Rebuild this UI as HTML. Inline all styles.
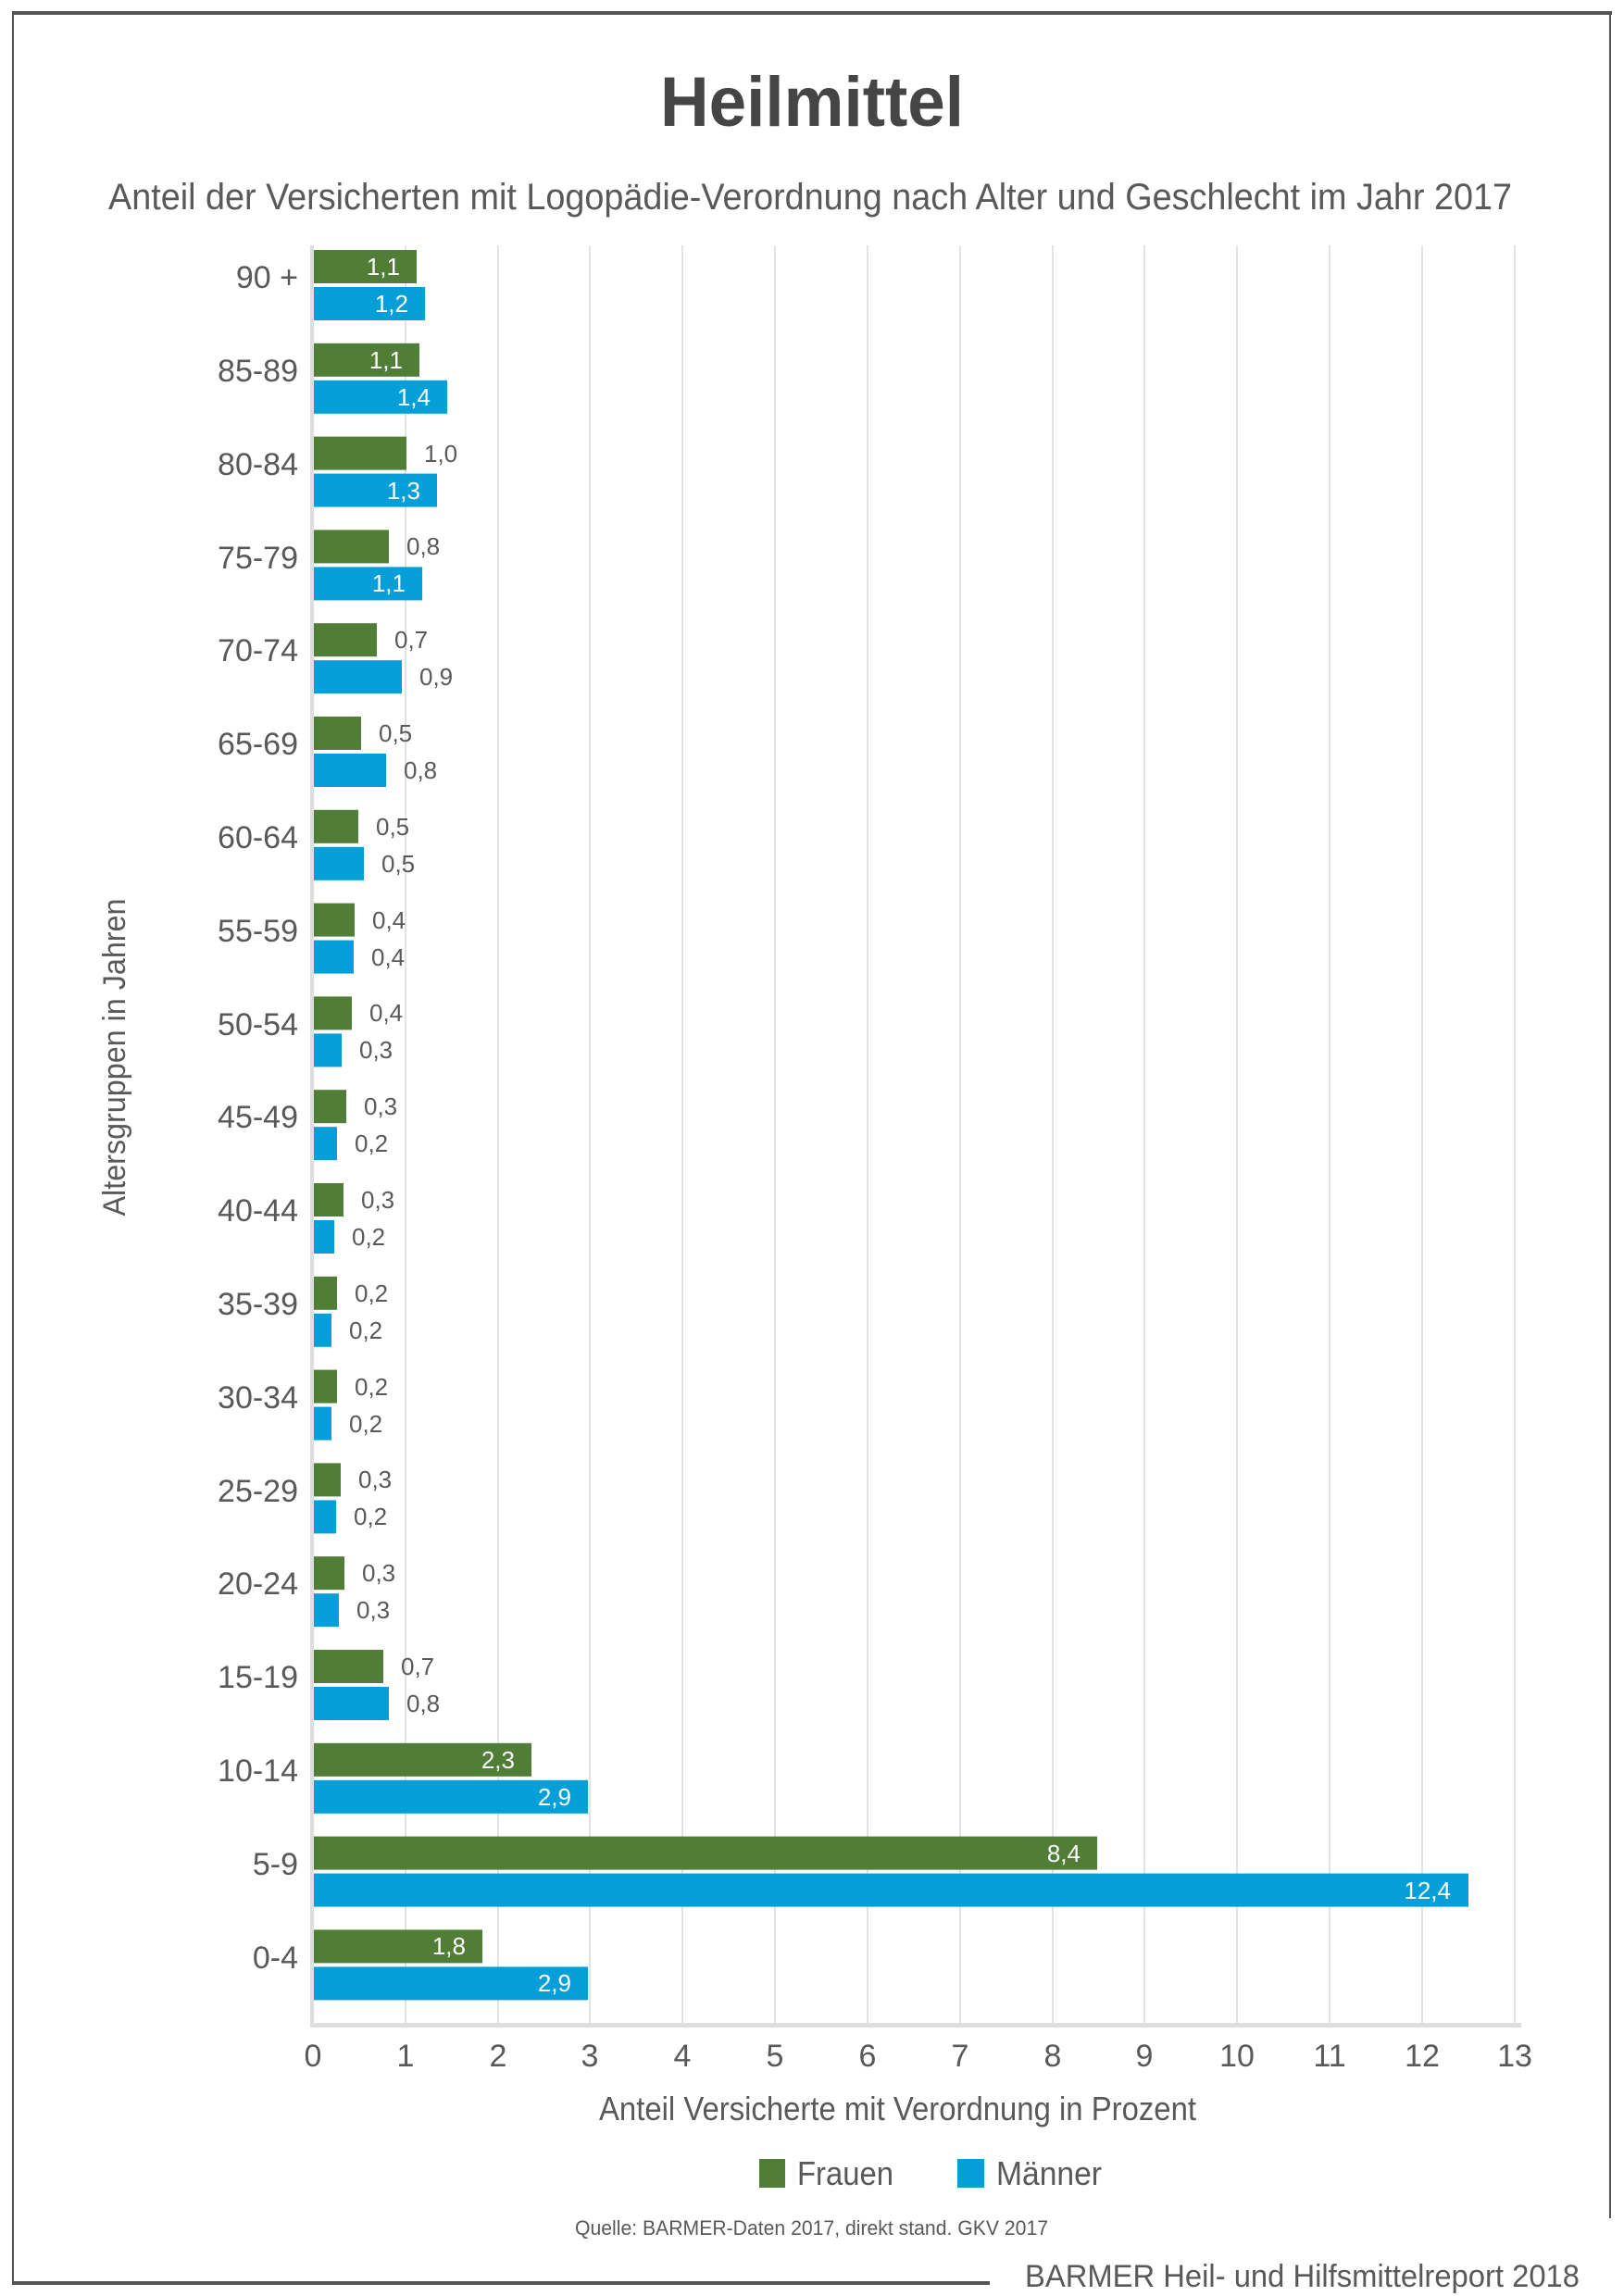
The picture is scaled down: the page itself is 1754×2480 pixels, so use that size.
<!DOCTYPE html>
<html><head><meta charset="utf-8"><style>
html,body{margin:0;padding:0;background:#fff}
svg{display:block}
text{font-family:"Liberation Sans",sans-serif;fill:#595959}
.c{font-size:34px;text-anchor:end}
.o{font-size:26px}
.i{font-size:26px;fill:#fff;text-anchor:end}
.t{font-size:34px;text-anchor:middle}
</style></head><body>
<svg width="1754" height="2480" viewBox="0 0 1754 2480" xmlns="http://www.w3.org/2000/svg">
<rect x="0" y="0" width="1754" height="2480" fill="#fff"/>
<rect x="13" y="12" width="1728" height="4" fill="#555"/>
<rect x="13" y="12" width="2" height="2456" fill="#555"/>
<rect x="1738" y="12" width="2" height="2384" fill="#555"/>
<rect x="13" y="2464" width="1056" height="4" fill="#555"/>
<text x="877" y="136" font-size="76" font-weight="bold" text-anchor="middle" textLength="328" lengthAdjust="spacingAndGlyphs" style="fill:#454545">Heilmittel</text>
<text x="117" y="226" font-size="40" textLength="1516" lengthAdjust="spacingAndGlyphs">Anteil der Versicherten mit Logopädie-Verordnung nach Alter und Geschlecht im Jahr 2017</text>
<g stroke="#e3e3e3" stroke-width="2">
<line x1="438" y1="265" x2="438" y2="2186"/><line x1="538" y1="265" x2="538" y2="2186"/>
<line x1="637" y1="265" x2="637" y2="2186"/><line x1="737" y1="265" x2="737" y2="2186"/>
<line x1="837" y1="265" x2="837" y2="2186"/><line x1="937" y1="265" x2="937" y2="2186"/>
<line x1="1037" y1="265" x2="1037" y2="2186"/><line x1="1137" y1="265" x2="1137" y2="2186"/>
<line x1="1236" y1="265" x2="1236" y2="2186"/><line x1="1336" y1="265" x2="1336" y2="2186"/>
<line x1="1436" y1="265" x2="1436" y2="2186"/><line x1="1536" y1="265" x2="1536" y2="2186"/>
<line x1="1636" y1="265" x2="1636" y2="2186"/>
</g>
<rect x="335" y="265" width="4" height="1924" fill="#dedede"/>
<rect x="335" y="2185" width="1308" height="5" fill="#dedede"/>
<g fill="#507e36">
<rect x="339" y="270" width="111" height="36"/>
<rect x="339" y="370.8" width="114" height="36"/>
<rect x="339" y="471.6" width="100" height="36"/>
<rect x="339" y="572.4" width="81" height="36"/>
<rect x="339" y="673.2" width="68" height="36"/>
<rect x="339" y="774" width="51" height="36"/>
<rect x="339" y="874.8" width="48" height="36"/>
<rect x="339" y="975.6" width="44" height="36"/>
<rect x="339" y="1076.4" width="41" height="36"/>
<rect x="339" y="1177.2" width="35" height="36"/>
<rect x="339" y="1278" width="32" height="36"/>
<rect x="339" y="1378.8" width="25" height="36"/>
<rect x="339" y="1479.6" width="25" height="36"/>
<rect x="339" y="1580.4" width="29" height="36"/>
<rect x="339" y="1681.2" width="33" height="36"/>
<rect x="339" y="1782" width="75" height="36"/>
<rect x="339" y="1882.8" width="235" height="36"/>
<rect x="339" y="1983.6" width="846" height="36"/>
<rect x="339" y="2084.4" width="182" height="36"/>
</g>
<g fill="#049fd9">
<rect x="339" y="310" width="120" height="36"/>
<rect x="339" y="410.8" width="144" height="36"/>
<rect x="339" y="511.6" width="133" height="36"/>
<rect x="339" y="612.4" width="117" height="36"/>
<rect x="339" y="713.2" width="95" height="36"/>
<rect x="339" y="814" width="78" height="36"/>
<rect x="339" y="914.8" width="54" height="36"/>
<rect x="339" y="1015.6" width="43" height="36"/>
<rect x="339" y="1116.4" width="30" height="36"/>
<rect x="339" y="1217.2" width="25" height="36"/>
<rect x="339" y="1318" width="22" height="36"/>
<rect x="339" y="1418.8" width="19" height="36"/>
<rect x="339" y="1519.6" width="19" height="36"/>
<rect x="339" y="1620.4" width="24" height="36"/>
<rect x="339" y="1721.2" width="27" height="36"/>
<rect x="339" y="1822" width="81" height="36"/>
<rect x="339" y="1922.8" width="296" height="36"/>
<rect x="339" y="2023.6" width="1247" height="36"/>
<rect x="339" y="2124.4" width="296" height="36"/>
</g>
<text class="i" x="432" y="297">1,1</text><text class="i" x="441" y="337">1,2</text>
<text class="i" x="435" y="398">1,1</text><text class="i" x="465" y="438">1,4</text>
<text class="o" x="458" y="499">1,0</text><text class="i" x="454" y="539">1,3</text>
<text class="o" x="439" y="599">0,8</text><text class="i" x="438" y="639">1,1</text>
<text class="o" x="426" y="700">0,7</text><text class="o" x="453" y="740">0,9</text>
<text class="o" x="409" y="801">0,5</text><text class="o" x="436" y="841">0,8</text>
<text class="o" x="406" y="902">0,5</text><text class="o" x="412" y="942">0,5</text>
<text class="o" x="402" y="1003">0,4</text><text class="o" x="401" y="1043">0,4</text>
<text class="o" x="399" y="1103">0,4</text><text class="o" x="388" y="1143">0,3</text>
<text class="o" x="393" y="1204">0,3</text><text class="o" x="383" y="1244">0,2</text>
<text class="o" x="390" y="1305">0,3</text><text class="o" x="380" y="1345">0,2</text>
<text class="o" x="383" y="1406">0,2</text><text class="o" x="377" y="1446">0,2</text>
<text class="o" x="383" y="1507">0,2</text><text class="o" x="377" y="1547">0,2</text>
<text class="o" x="387" y="1607">0,3</text><text class="o" x="382" y="1647">0,2</text>
<text class="o" x="391" y="1708">0,3</text><text class="o" x="385" y="1748">0,3</text>
<text class="o" x="433" y="1809">0,7</text><text class="o" x="439" y="1849">0,8</text>
<text class="i" x="556" y="1910">2,3</text><text class="i" x="617" y="1950">2,9</text>
<text class="i" x="1167" y="2011">8,4</text><text class="i" x="1567" y="2051">12,4</text>
<text class="i" x="503" y="2111">1,8</text><text class="i" x="617" y="2151">2,9</text>
<text class="c" x="322" y="311">90 +</text>
<text class="c" x="322" y="412">85-89</text>
<text class="c" x="322" y="513">80-84</text>
<text class="c" x="322" y="614">75-79</text>
<text class="c" x="322" y="714">70-74</text>
<text class="c" x="322" y="815">65-69</text>
<text class="c" x="322" y="916">60-64</text>
<text class="c" x="322" y="1017">55-59</text>
<text class="c" x="322" y="1118">50-54</text>
<text class="c" x="322" y="1218">45-49</text>
<text class="c" x="322" y="1319">40-44</text>
<text class="c" x="322" y="1420">35-39</text>
<text class="c" x="322" y="1521">30-34</text>
<text class="c" x="322" y="1622">25-29</text>
<text class="c" x="322" y="1722">20-24</text>
<text class="c" x="322" y="1823">15-19</text>
<text class="c" x="322" y="1924">10-14</text>
<text class="c" x="322" y="2025">5-9</text>
<text class="c" x="322" y="2126">0-4</text>
<text x="0" y="0" font-size="34" text-anchor="middle" textLength="343" lengthAdjust="spacingAndGlyphs" transform="translate(135,1142) rotate(-90)">Altersgruppen in Jahren</text>
<text class="t" x="338" y="2232">0</text><text class="t" x="438" y="2232">1</text>
<text class="t" x="538" y="2232">2</text><text class="t" x="637" y="2232">3</text>
<text class="t" x="737" y="2232">4</text><text class="t" x="837" y="2232">5</text>
<text class="t" x="937" y="2232">6</text><text class="t" x="1037" y="2232">7</text>
<text class="t" x="1137" y="2232">8</text><text class="t" x="1236" y="2232">9</text>
<text class="t" x="1336" y="2232">10</text><text class="t" x="1436" y="2232">11</text>
<text class="t" x="1536" y="2232">12</text><text class="t" x="1636" y="2232">13</text>
<text x="647" y="2290" font-size="36" textLength="645" lengthAdjust="spacingAndGlyphs">Anteil Versicherte mit Verordnung in Prozent</text>
<rect x="820" y="2332" width="28" height="31" fill="#507e36"/>
<text x="861" y="2360" font-size="36" textLength="104" lengthAdjust="spacingAndGlyphs">Frauen</text>
<rect x="1034" y="2332" width="29" height="31" fill="#049fd9"/>
<text x="1076" y="2360" font-size="36" textLength="114" lengthAdjust="spacingAndGlyphs">Männer</text>
<text x="621" y="2414" font-size="22" textLength="511" lengthAdjust="spacingAndGlyphs">Quelle: BARMER-Daten 2017, direkt stand. GKV 2017</text>
<text x="1107" y="2470" font-size="34" textLength="599" lengthAdjust="spacingAndGlyphs">BARMER Heil- und Hilfsmittelreport 2018</text>
</svg>
</body></html>
